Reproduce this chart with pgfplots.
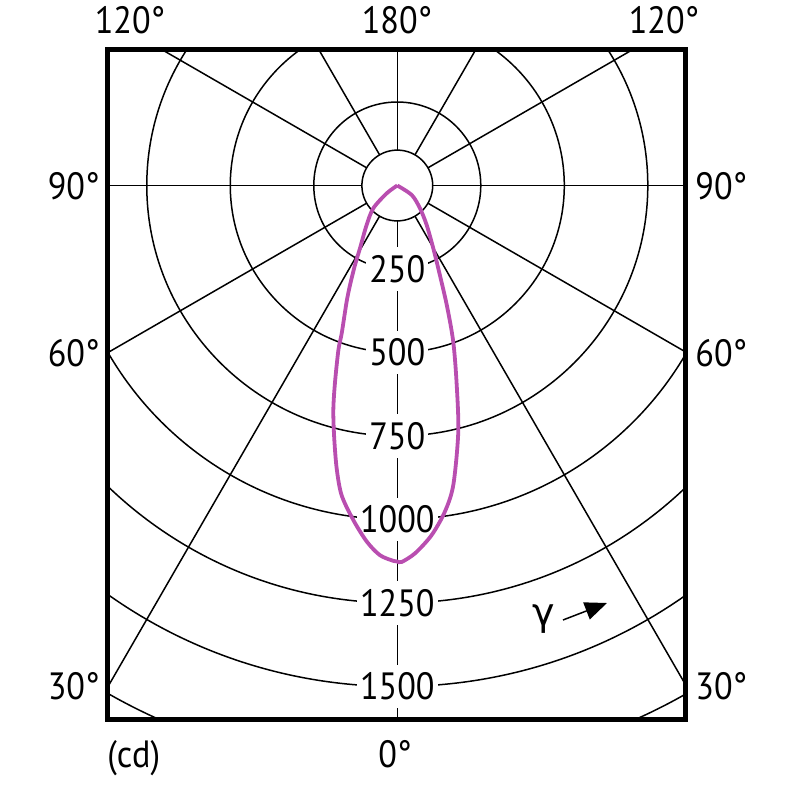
\documentclass[border=0pt]{standalone}
\usepackage{pgfplots}
\pgfplotsset{compat=1.18}
\usepackage{pgfplotstable}
\usepackage{fontspec}
\usetikzlibrary{arrows.meta}
\setmainfont[FakeStretch=0.9]{PT Sans}
\newfontfamily\greekfont{DejaVu Sans}
\definecolor{curvecol}{RGB}{185,78,176}

% luminous intensity (cd) versus gamma (deg); negative gamma = left half
\pgfplotstableread{
g I
-90 0
-53.6 39
-46.5 99
-37.8 150
-30.7 219
-28.0 270
-25.4 330
-23.5 381
-20.6 473
-19.7 523
-17.5 621
-15.9 699
-14.1 776
-12.1 866
-10.2 942
-7.5 1010
-4.9 1070
-2.7 1108
-0.6 1124
0 1126
0.7 1127
2.8 1102
5.6 1052
8.3 987
10.6 912
13.9 760
16.7 618
19.7 497
22.5 387
26.3 277
29.8 217
36.7 147
44.9 96
56.6 52
90 0
}\intensity

\begin{document}
\begin{tikzpicture}
\useasboundingbox (0,0) rectangle (400pt,392pt);
\begin{axis}[
  at={(53.75pt,32.25pt)}, anchor=south west,
  scale only axis, width=289pt, height=335pt,
  xmin=-867.6, xmax=862.9, ymin=-1598.8, ymax=407.2,
  xtick=\empty, ytick=\empty,
  axis line style={line width=2.5pt, black},
  axis on top,
  clip=true,
]
\pgfplotsinvokeforeach{250,500,750,1000,1250,1500,1750,2000}{
  \draw[line width=0.75pt] (axis cs:0,0) circle[radius=#1];
}
\draw[line width=0.75pt] (axis cs:0,0) circle[radius=106];
\pgfplotsinvokeforeach{0,30,60,90,120,150,180,210,240,270,300,330}{
  \draw[line width=0.75pt] (axis cs:{106*sin(#1)},{-106*cos(#1)}) -- (axis cs:{3000*sin(#1)},{-3000*cos(#1)});
}
\pgfplotsinvokeforeach{250,500,750,1000,1250,1500}{
  \node[fill=white, inner xsep=1.5pt, inner ysep=4pt, font=\fontsize{19}{22}\selectfont] at (axis cs:0,-#1) {#1};
}
\addplot[curvecol, line width=1.9pt, smooth, tension=0.5] table[x expr={\thisrow{I}*sin(\thisrow{g})}, y expr={-\thisrow{I}*cos(\thisrow{g})}] {\intensity};
\end{axis}
\begin{scope}[x=0.5pt, y=-0.5pt, shift={(0,392pt)}, every node/.style={font=\fontsize{19}{22}\selectfont, inner sep=0pt}]
\node[anchor=base] at (130,34) {120°};
\node[anchor=base] at (397,34) {180°};
\node[anchor=base] at (664,34) {120°};
\node[anchor=east] at (100,186) {90°};
\node[anchor=west] at (695,186) {90°};
\node[anchor=east] at (100,353) {60°};
\node[anchor=west] at (695,353) {60°};
\node[anchor=east] at (100,686) {30°};
\node[anchor=west] at (695,686) {30°};
\node[anchor=base] at (395,767) {0°};
\node[anchor=base west] at (107,767) {(cd)};
\node at (544,619) {\greekfont γ};
\draw[line width=0.75pt, -{Triangle[length=11pt,width=9pt]}] (563,620) -- (607,603);
\end{scope}
\end{tikzpicture}
\end{document}
